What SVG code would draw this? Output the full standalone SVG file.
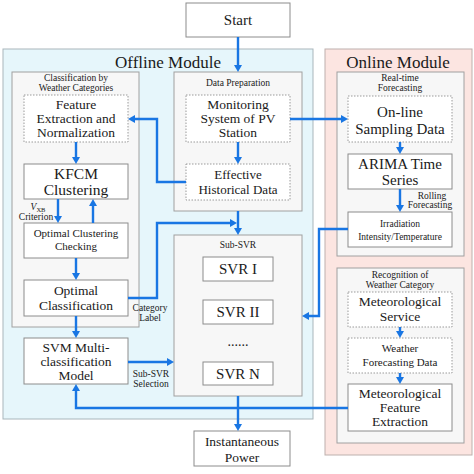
<svg xmlns="http://www.w3.org/2000/svg" width="474" height="474" viewBox="0 0 474 474">
<rect width="474" height="474" fill="#fff"/>
<g id="offline-module">
<rect x="3" y="49" width="310" height="370" fill="#e6f6fb" stroke="#a9b6bb"/>
<text x="168" y="68" font-family="Liberation Serif" font-size="17" text-anchor="middle" fill="#1a1a1a">Offline Module</text>
</g>
<g id="online-module">
<rect x="325" y="49" width="147" height="406" fill="#fce5e1" stroke="#bdb0ad"/>
<text x="398" y="68" font-family="Liberation Serif" font-size="17" text-anchor="middle" fill="#1a1a1a">Online Module</text>
</g>

<g id="classification-group">
<rect x="12" y="72" width="127" height="255" fill="#f7f7f7" stroke="#a0a0a0"/>
<text x="76" y="81" font-family="Liberation Serif" font-size="9.5" text-anchor="middle" fill="#1a1a1a">Classification by</text>
<text x="76" y="91" font-family="Liberation Serif" font-size="9.5" text-anchor="middle" fill="#1a1a1a">Weather Categories</text>
</g>
<g id="data-prep-group">
<rect x="174" y="72" width="128" height="139" fill="#f7f7f7" stroke="#a0a0a0"/>
<text x="238" y="86" font-family="Liberation Serif" font-size="9.5" text-anchor="middle" fill="#1a1a1a">Data Preparation</text>
</g>
<g id="sub-svr-group">
<rect x="174" y="235" width="128" height="161" fill="#f7f7f7" stroke="#a0a0a0"/>
<text x="238" y="248" font-family="Liberation Serif" font-size="9.5" text-anchor="middle" fill="#1a1a1a">Sub-SVR</text>
</g>
<g id="realtime-group">
<rect x="337" y="72" width="127" height="184" fill="#f7f7f7" stroke="#a0a0a0"/>
<text x="400" y="81" font-family="Liberation Serif" font-size="9.5" text-anchor="middle" fill="#1a1a1a">Real-time</text>
<text x="400" y="91" font-family="Liberation Serif" font-size="9.5" text-anchor="middle" fill="#1a1a1a">Forecasting</text>
</g>
<g id="recognition-group">
<rect x="337" y="268" width="127" height="175" fill="#f7f7f7" stroke="#a0a0a0"/>
<text x="400" y="278" font-family="Liberation Serif" font-size="9.5" text-anchor="middle" fill="#1a1a1a">Recognition of</text>
<text x="400" y="288" font-family="Liberation Serif" font-size="9.5" text-anchor="middle" fill="#1a1a1a">Weather Category</text>
</g>

<g id="start">
<rect x="186" y="3" width="104" height="34" fill="#fff" stroke="#8c8c8c"/>
<text x="238" y="25" font-family="Liberation Serif" font-size="15" text-anchor="middle" fill="#1a1a1a">Start</text>
</g>
<g id="monitoring">
<rect x="186" y="95" width="104" height="47" fill="#fff" stroke="#9a9a9a" stroke-dasharray="1.5 1.5"/>
<text x="238" y="109" font-family="Liberation Serif" font-size="13.5" text-anchor="middle" fill="#1a1a1a">Monitoring</text>
<text x="238" y="123" font-family="Liberation Serif" font-size="13.5" text-anchor="middle" fill="#1a1a1a">System of PV</text>
<text x="238" y="137" font-family="Liberation Serif" font-size="13.5" text-anchor="middle" fill="#1a1a1a">Station</text>
</g>
<g id="effective">
<rect x="186" y="164" width="104" height="36" fill="#fff" stroke="#9a9a9a" stroke-dasharray="1.5 1.5"/>
<text x="238" y="179" font-family="Liberation Serif" font-size="13" text-anchor="middle" fill="#1a1a1a">Effective</text>
<text x="238" y="194" font-family="Liberation Serif" font-size="13" text-anchor="middle" fill="#1a1a1a">Historical Data</text>
</g>
<g id="feature-extraction">
<rect x="24" y="95" width="104" height="47" fill="#fff" stroke="#9a9a9a" stroke-dasharray="1.5 1.5"/>
<text x="76" y="109" font-family="Liberation Serif" font-size="13.5" text-anchor="middle" fill="#1a1a1a">Feature</text>
<text x="76" y="123" font-family="Liberation Serif" font-size="13.5" text-anchor="middle" fill="#1a1a1a">Extraction and</text>
<text x="76" y="137" font-family="Liberation Serif" font-size="13.5" text-anchor="middle" fill="#1a1a1a">Normalization</text>
</g>
<g id="kfcm">
<rect x="24" y="164" width="104" height="35" fill="#fff" stroke="#8c8c8c"/>
<text x="76" y="179" font-family="Liberation Serif" font-size="15.5" text-anchor="middle" fill="#1a1a1a">KFCM</text>
<text x="76" y="195" font-family="Liberation Serif" font-size="15.5" text-anchor="middle" fill="#1a1a1a">Clustering</text>
</g>
<g id="opt-clustering">
<rect x="24" y="223" width="104" height="35" fill="#fff" stroke="#8c8c8c"/>
<text x="76" y="237" font-family="Liberation Serif" font-size="11" text-anchor="middle" fill="#1a1a1a">Optimal Clustering</text>
<text x="76" y="250" font-family="Liberation Serif" font-size="11" text-anchor="middle" fill="#1a1a1a">Checking</text>
</g>
<g id="opt-classification">
<rect x="24" y="280" width="104" height="36" fill="#fff" stroke="#8c8c8c"/>
<text x="76" y="295" font-family="Liberation Serif" font-size="13.5" text-anchor="middle" fill="#1a1a1a">Optimal</text>
<text x="76" y="310" font-family="Liberation Serif" font-size="13.5" text-anchor="middle" fill="#1a1a1a">Classification</text>
</g>
<g id="svm">
<rect x="24" y="338" width="104" height="46" fill="#fff" stroke="#8c8c8c"/>
<text x="76" y="352" font-family="Liberation Serif" font-size="13.5" text-anchor="middle" fill="#1a1a1a">SVM Multi-</text>
<text x="76" y="366" font-family="Liberation Serif" font-size="13.5" text-anchor="middle" fill="#1a1a1a">classification</text>
<text x="76" y="380" font-family="Liberation Serif" font-size="13.5" text-anchor="middle" fill="#1a1a1a">Model</text>
</g>
<g id="svr1">
<rect x="203" y="257" width="70" height="24" fill="#fff" stroke="#8c8c8c"/>
<text x="238" y="274" font-family="Liberation Serif" font-size="15" text-anchor="middle" fill="#1a1a1a">SVR I</text>
</g>
<g id="svr2">
<rect x="203" y="300" width="70" height="24" fill="#fff" stroke="#8c8c8c"/>
<text x="238" y="317" font-family="Liberation Serif" font-size="15" text-anchor="middle" fill="#1a1a1a">SVR II</text>
</g>
<text x="238" y="346" font-family="Liberation Serif" font-size="14" text-anchor="middle" fill="#1a1a1a">......</text>
<g id="svrn">
<rect x="203" y="362" width="70" height="23" fill="#fff" stroke="#8c8c8c"/>
<text x="238" y="379" font-family="Liberation Serif" font-size="15" text-anchor="middle" fill="#1a1a1a">SVR N</text>
</g>
<g id="power">
<rect x="194" y="431" width="96" height="35" fill="#fff" stroke="#8c8c8c"/>
<text x="242" y="446" font-family="Liberation Serif" font-size="13.5" text-anchor="middle" fill="#1a1a1a">Instantaneous</text>
<text x="242" y="462" font-family="Liberation Serif" font-size="13.5" text-anchor="middle" fill="#1a1a1a">Power</text>
</g>
<g id="online-sampling">
<rect x="348" y="96" width="104" height="46" fill="#fff" stroke="#9a9a9a" stroke-dasharray="1.5 1.5"/>
<text x="400" y="117" font-family="Liberation Serif" font-size="15" text-anchor="middle" fill="#1a1a1a">On-line</text>
<text x="400" y="134" font-family="Liberation Serif" font-size="15" text-anchor="middle" fill="#1a1a1a">Sampling Data</text>
</g>
<g id="arima">
<rect x="348" y="154" width="104" height="35" fill="#fff" stroke="#8c8c8c"/>
<text x="400" y="169" font-family="Liberation Serif" font-size="15" text-anchor="middle" fill="#1a1a1a">ARIMA Time</text>
<text x="400" y="185" font-family="Liberation Serif" font-size="15" text-anchor="middle" fill="#1a1a1a">Series</text>
</g>
<g id="irradiation">
<rect x="348" y="212" width="104" height="35" fill="#fff" stroke="#8c8c8c"/>
<text x="400" y="227" font-family="Liberation Serif" font-size="9.5" text-anchor="middle" fill="#1a1a1a">Irradiation</text>
<text x="400" y="240" font-family="Liberation Serif" font-size="9.5" text-anchor="middle" fill="#1a1a1a">Intensity/Temperature</text>
</g>
<g id="met-service">
<rect x="348" y="292" width="104" height="35" fill="#fff" stroke="#9a9a9a" stroke-dasharray="1.5 1.5"/>
<text x="400" y="306" font-family="Liberation Serif" font-size="13.5" text-anchor="middle" fill="#1a1a1a">Meteorological</text>
<text x="400" y="321" font-family="Liberation Serif" font-size="13.5" text-anchor="middle" fill="#1a1a1a">Service</text>
</g>
<g id="weather-forecast">
<rect x="348" y="338" width="104" height="35" fill="#fff" stroke="#9a9a9a" stroke-dasharray="1.5 1.5"/>
<text x="400" y="352" font-family="Liberation Serif" font-size="11" text-anchor="middle" fill="#1a1a1a">Weather</text>
<text x="400" y="366" font-family="Liberation Serif" font-size="11" text-anchor="middle" fill="#1a1a1a">Forecasting Data</text>
</g>
<g id="met-feature">
<rect x="348" y="384" width="104" height="47" fill="#fff" stroke="#8c8c8c"/>
<text x="400" y="398" font-family="Liberation Serif" font-size="13.5" text-anchor="middle" fill="#1a1a1a">Meteorological</text>
<text x="400" y="412" font-family="Liberation Serif" font-size="13.5" text-anchor="middle" fill="#1a1a1a">Feature</text>
<text x="400" y="426" font-family="Liberation Serif" font-size="13.5" text-anchor="middle" fill="#1a1a1a">Extraction</text>
</g>

<g id="connectors">
<g fill="none" stroke="#1976e3" stroke-width="2.4">
<path d="M238,37 V66"/>
<path d="M238,142 V158"/>
<path d="M290,119 H342"/>
<path d="M186,182 H157 V119 H134"/>
<path d="M76,142 V158"/>
<path d="M58,199 V217"/>
<path d="M93,223 V205"/>
<path d="M76,258 V274"/>
<path d="M128,298 H157 V223 H231"/>
<path d="M238,211 V229"/>
<path d="M76,316 V332"/>
<path d="M128,362 H168"/>
<path d="M348,229 H319 V316 H308"/>
<path d="M348,408 H76 V390"/>
<path d="M238,396 V425"/>
<path d="M400,142 V148"/>
<path d="M400,189 V206"/>
<path d="M400,327 V332"/>
<path d="M400,373 V378"/>
</g>
<g fill="#1976e3">
<polygon points="234,65 242,65 238,72"/>
<polygon points="234,157 242,157 238,164"/>
<polygon points="341,115 341,123 348,119"/>
<polygon points="135,115 135,123 128,119"/>
<polygon points="72,157 80,157 76,164"/>
<polygon points="54,216 62,216 58,223"/>
<polygon points="89,206 97,206 93,199"/>
<polygon points="72,273 80,273 76,280"/>
<polygon points="230,219 230,227 237,223"/>
<polygon points="234,228 242,228 238,235"/>
<polygon points="72,331 80,331 76,338"/>
<polygon points="167,358 167,366 174,362"/>
<polygon points="309,312 309,320 302,316"/>
<polygon points="72,391 80,391 76,384"/>
<polygon points="234,424 242,424 238,431"/>
<polygon points="396,147 404,147 400,154"/>
<polygon points="396,205 404,205 400,212"/>
<polygon points="396,331 404,331 400,338"/>
<polygon points="396,377 404,377 400,384"/>
</g>
</g>

<g id="labels">
<text x="38" y="210" font-family="Liberation Serif" font-size="9.5" text-anchor="middle" fill="#1a1a1a"><tspan font-style="italic">V</tspan><tspan font-size="6.5" dy="1.5">XB</tspan></text>
<text x="36" y="220" font-family="Liberation Serif" font-size="9.5" text-anchor="middle" fill="#1a1a1a">Criterion</text>
<text x="150" y="311" font-family="Liberation Serif" font-size="9.5" text-anchor="middle" fill="#1a1a1a">Category</text>
<text x="150" y="321" font-family="Liberation Serif" font-size="9.5" text-anchor="middle" fill="#1a1a1a">Label</text>
<text x="151" y="377" font-family="Liberation Serif" font-size="9.5" text-anchor="middle" fill="#1a1a1a">Sub-SVR</text>
<text x="151" y="387" font-family="Liberation Serif" font-size="9.5" text-anchor="middle" fill="#1a1a1a">Selection</text>
<text x="432" y="199" font-family="Liberation Serif" font-size="9.5" text-anchor="middle" fill="#1a1a1a">Rolling</text>
<text x="430" y="208" font-family="Liberation Serif" font-size="9.5" text-anchor="middle" fill="#1a1a1a">Forecasting</text>
</g>
</svg>
